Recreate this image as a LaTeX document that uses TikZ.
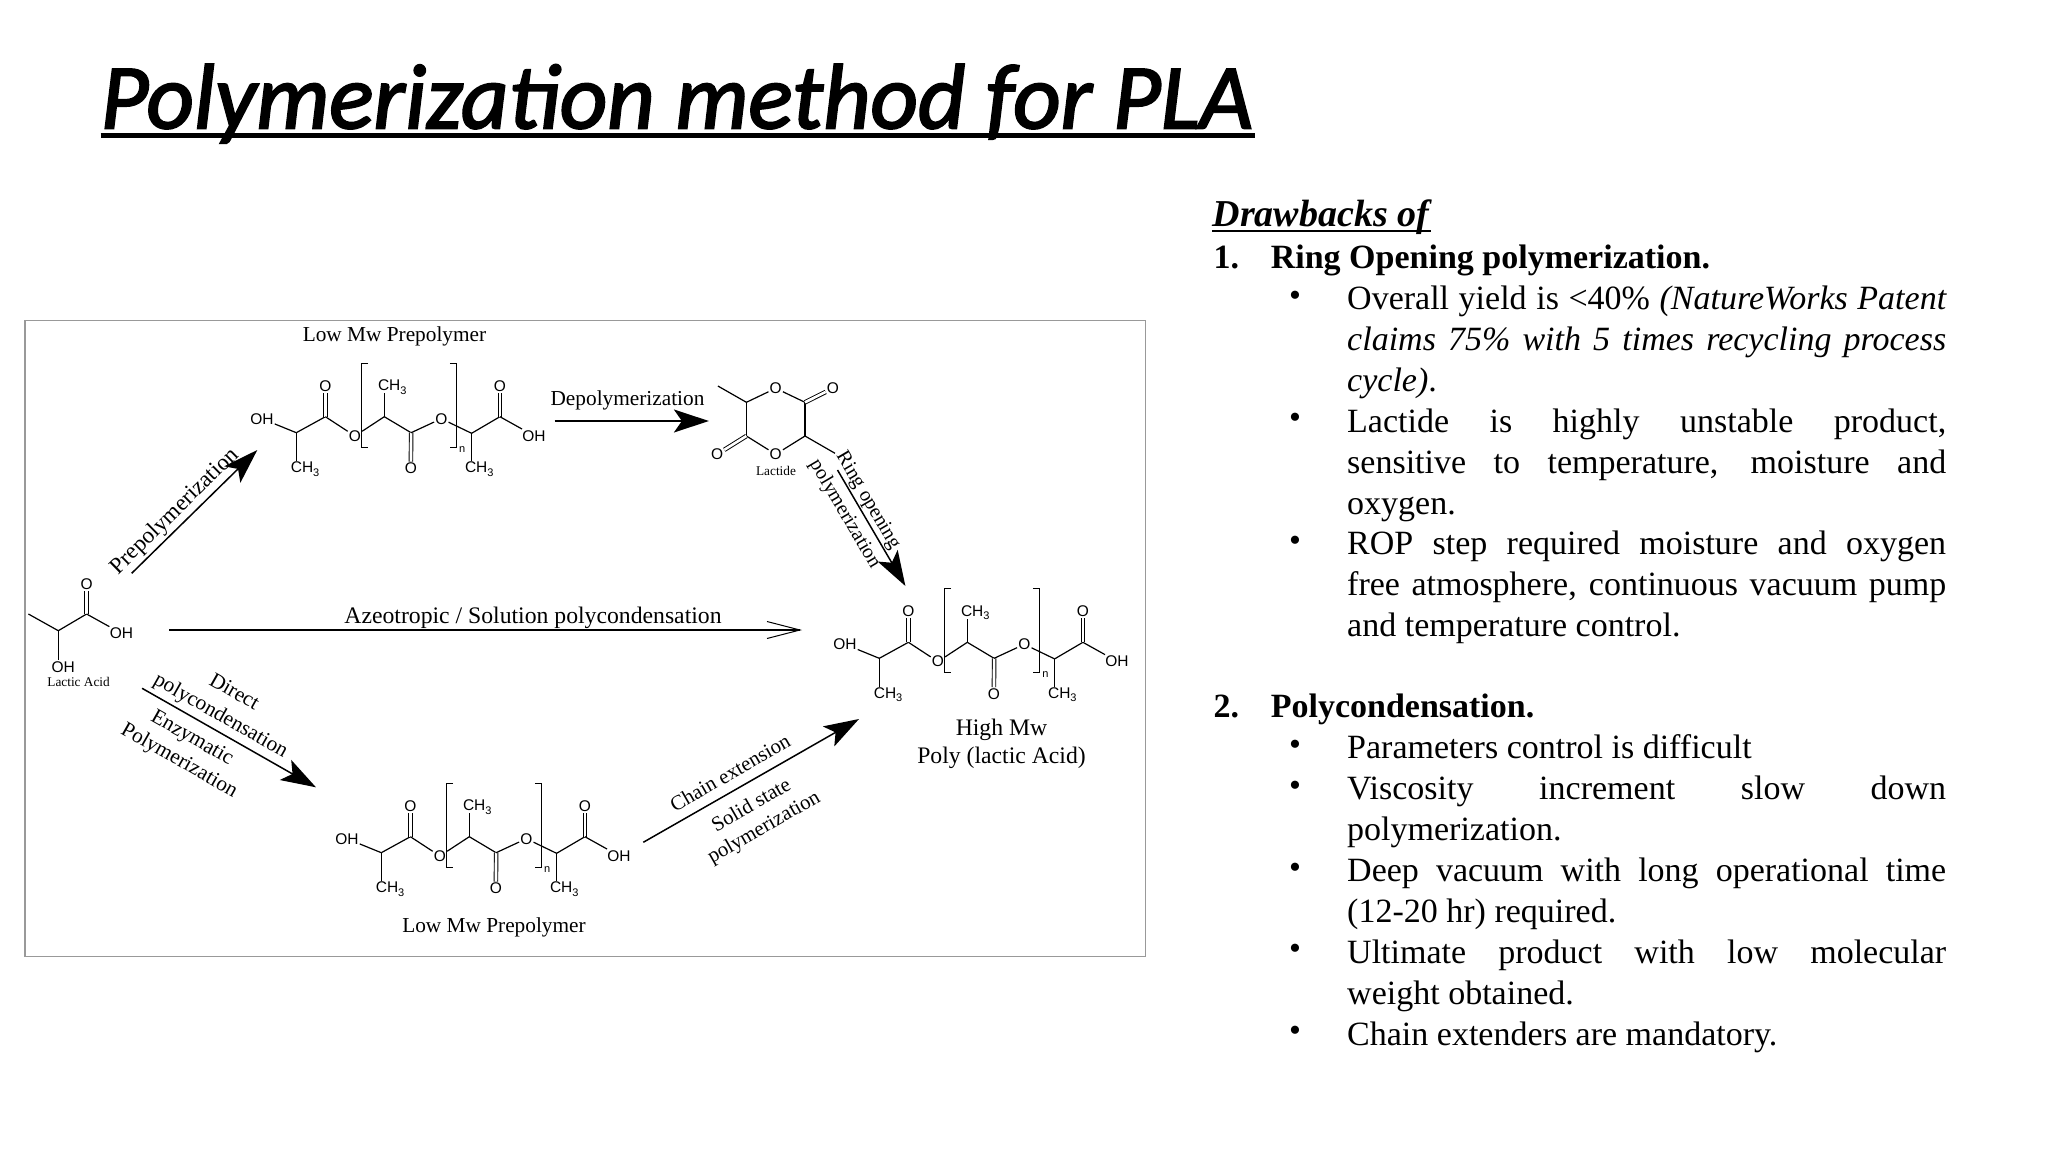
\documentclass[tikz,border=0pt]{standalone}
\usepackage{fontspec}
\setmainfont{Liberation Serif}
\newfontfamily\atomfont{Liberation Sans}
\newfontfamily\titlefont{Carlito}[ItalicFeatures={FakeBold=2.2}]
\usetikzlibrary{arrows.meta}
\newcommand{\chthree}{CH\lower.22em\hbox{\fontsize{11}{11}\selectfont 3}}
\newcommand{\fsz}[2]{\fontsize{#1}{#2}\selectfont}
\tikzset{
  atom/.style={inner sep=1pt,font=\atomfont\fsz{15.5}{16}},
  bond/.style={line width=1.2pt,line cap=butt},
  dbl/.style={line width=0.95pt,double,double distance=2.6pt},
  brk/.style={line width=1.1pt},
  lbl/.style={inner sep=0pt,align=center,font=\fsz{21.3}{27}},
  lblb/.style={inner sep=0pt,align=center,font=\fsz{23.7}{28}},
  lbls/.style={inner sep=0pt,font=\fsz{13.3}{14}},
  solid head/.style={line width=1.5pt,-{Stealth[length=35pt,width=23pt,inset=8pt]}},
  open head/.style={line width=1.5pt,-{Straight Barb[length=33pt,width=17pt,line width=1pt]}},
  frame/.style={draw=black!40,line width=1.5pt},
  para/.style={anchor=base west,inner sep=0pt},
}
\newcommand{\polymer}[3]{%
\begin{scope}[shift={(#2,#3)}]
  \coordinate (#1c1) at (0,0);
  \coordinate (#1c2) at (29.1,-16);
  \coordinate (#1c3) at (88,-16);
  \coordinate (#1c4) at (114.8,0);
  \coordinate (#1c5) at (175.3,0.6);
  \coordinate (#1c6) at (203.6,-16);
  \coordinate (#1m3) at (88,-39.4);
  \node[atom] (#1oh) at (-34.4,-14) {OH};
  \node[atom] (#1mea) at (8.8,36.6) {\chthree};
  \node[atom] (#1oa) at (29.1,-46.7) {O};
  \node[atom] (#1ob) at (58.6,3.3) {O};
  \node[atom] (#1meb) at (96,-45.4) {\chthree};
  \node[atom] (#1oc) at (114.6,35.6) {O};
  \node[atom] (#1od) at (145,-14) {O};
  \node[atom,font=\atomfont\fsz{11}{11}] (#1n) at (166,16.6) {n};
  \node[atom] (#1mec) at (183,36.6) {\chthree};
  \node[atom] (#1oe) at (203.6,-46.7) {O};
  \node[atom] (#1ohb) at (237.7,3) {OH};
  \draw[bond] (#1oh) -- (#1c1);
  \draw[bond] (#1c1) -- (#1c1 |- #1mea.north);
  \draw[bond] (#1c1) -- (#1c2);
  \draw[dbl] (#1c2) -- (#1oa);
  \draw[bond] (#1c2) -- (#1ob);
  \draw[bond] (#1ob) -- (#1c3);
  \draw[bond] (#1c3) -- (#1m3);
  \draw[bond] (#1c3) -- (#1c4);
  \draw[dbl] (#1c4) -- (#1oc);
  \draw[bond] (#1c4) -- (#1od);
  \draw[bond] (#1od) -- (#1c5);
  \draw[bond] (#1c5) -- (#1c5 |- #1mec.north);
  \draw[bond] (#1c5) -- (#1c6);
  \draw[dbl] (#1c6) -- (#1oe);
  \draw[bond] (#1c6) -- (#1ohb);
  \coordinate (#1bl) at (65.4,-69.4);
  \coordinate (#1br) at (65.4,14.6);
  \coordinate (#1cl) at (160,-69.4);
  \coordinate (#1cr) at (160,14.6);
  \draw[brk] ([xshift=6.5pt]#1bl) -- (#1bl) -- (#1br) -- ([xshift=6.5pt]#1br);
  \draw[brk] ([xshift=-6.5pt]#1cl) -- (#1cl) -- (#1cr) -- ([xshift=-6.5pt]#1cr);
\end{scope}}
\newcommand{\bul}[2]{%
  \node[para] at (1289,#1-3.5) {\fsz{34}{40.9}\textbullet};
  \node[para] at (1347,#1) {\parbox[t]{599pt}{\fsz{34}{40.9}\hbadness=10000 \hfuzz=3pt\relax #2}};}
\begin{document}
\begin{tikzpicture}[x=1pt,y=-1pt]
\useasboundingbox (0,0) rectangle (2048,1152);
\fill[white] (0,0) rectangle (2048,1152);

% title
\node[anchor=base west,inner sep=0pt] (title) at (100.5,128.3)
  {\titlefont\itshape\fsz{92.3}{94}Polymerization method for PLA};
\coordinate (tula) at (100.7,135.7);
\coordinate (tulb) at (1254.5,135.7);
\draw[line width=5.5pt] (tula) -- (tulb);

% frame
\node[frame,draw,anchor=north west,minimum width=1120.5pt,minimum height=636pt,inner sep=0pt] (box) at (24,319.5) {};

% lactic acid
\coordinate (la1) at (28.4,614);
\coordinate (la2) at (58.3,630.7);
\coordinate (la3) at (86.6,614);
\node[atom] (lao) at (86.6,584) {O};
\node[atom] (laoh) at (121.4,633.3) {OH};
\node[atom] (laohb) at (63.2,667) {OH};
\node[lbls] (lan) at (78.6,682.3) {Lactic Acid};
\draw[bond] (la1) -- (la2) -- (la3);
\draw[dbl] (la3) -- (lao);
\draw[bond] (la3) -- (laoh);
\draw[bond] (la2) -- (la2 |- laohb.north);

% polymers
\polymer{a}{296.3}{432.7}
\polymer{b}{381.3}{852.7}
\polymer{c}{879.3}{658.3}

% lactide
\coordinate (ld1) at (717.9,386);
\coordinate (ldca) at (746.4,402.3);
\coordinate (ldcb) at (805,402.3);
\coordinate (ldcc) at (805,436);
\coordinate (ldcd) at (746.4,436);
\coordinate (ld2) at (835,453.3);
\node[atom] (ldoa) at (775.7,388.3) {O};
\node[atom] (ldob) at (832.9,388.3) {O};
\node[atom] (ldoc) at (775.7,454.3) {O};
\node[atom] (ldod) at (717.1,454.3) {O};
\node[lbls] (ldn) at (776,471) {Lactide};
\draw[bond] (ld1) -- (ldca);
\draw[bond] (ldca) -- (ldoa);
\draw[bond] (ldoa) -- (ldcb);
\draw[bond] (ldcb) -- (ldcc);
\draw[bond] (ldcc) -- (ldoc);
\draw[bond] (ldoc) -- (ldcd);
\draw[bond] (ldcd) -- (ldca);
\draw[bond] (ldcc) -- (ld2);
\draw[dbl] (ldcb) -- (ldob);
\draw[dbl] (ldcd) -- (ldod);

% structure captions
\node[lbl] (ta) at (394.5,336.6) {Low Mw Prepolymer};
\node[lbl] (tb) at (494,927) {Low Mw Prepolymer};
\node[lblb] (tc) at (1001.5,744.2) {High Mw\\Poly (lactic Acid)};

% arrows
\coordinate (p1) at (131.7,573.3); \coordinate (p2) at (257.3,450);
\draw[solid head] (p1) -- (p2);
\node[lbl,font=\fsz{23}{27},rotate=44.5] (tp) at (175,511.7) {Prepolymerization};

\coordinate (d1) at (554.6,421); \coordinate (d2) at (708.9,421);
\draw[solid head] (d1) -- (d2);
\node[lbl] (td) at (627.5,400.8) {Depolymerization};

\coordinate (r1) at (837.5,470); \coordinate (r2) at (905.4,586);
\draw[solid head] (r1) -- (r2);
\node[lbl,font=\fsz{20.2}{27},rotate=-59.6] (tr) at (856,507.5) {Ring opening\\polymerization};

\coordinate (z1) at (169.3,630); \coordinate (z2) at (802,630);
\draw[open head] (z1) -- (z2);
\node[lbl,font=\fsz{23.7}{27}] (tz) at (533,618.2) {Azeotropic / Solution polycondensation};

\coordinate (e1) at (142.1,688.3); \coordinate (e2) at (316,787.3);
\draw[solid head] (e1) -- (e2);
\node[lbl,font=\fsz{21.3}{27},rotate=-29.6] (te) at (227,704.8) {Direct\\polycondensation};
\node[lbl,font=\fsz{21.3}{26},rotate=-29.6] (tf) at (185.3,750) {Enzymatic\\Polymerization};

\coordinate (g1) at (643.3,842.3); \coordinate (g2) at (859,719);
\draw[solid head] (g1) -- (g2);
\node[lbl,font=\fsz{20.8}{25},rotate=29.8] (tg) at (730,772.8) {Chain extension};
\node[lbl,font=\fsz{20.8}{25},rotate=29.8] (th) at (758,817) {Solid state\\polymerization};

% right text
\node[para] (dr) at (1212.4,226.5) {\fsz{38}{40.9}\bfseries\itshape Drawbacks of};
\coordinate (dra) at (1212.4,230.5); \coordinate (drb) at (1431,230.5);
\draw[line width=2pt] (dra) -- (drb);

\node[para] (n1) at (1213.5,268) {\fsz{34}{40.9}\bfseries 1.};
\node[para] (h1) at (1270.6,268) {\fsz{34}{40.9}\bfseries Ring Opening polymerization.};
\bul{309.5}{Overall yield is <40\% \textit{(NatureWorks Patent\linebreak claims 75\% with 5 times recycling process\linebreak cycle)}.}
\bul{432.2}{Lactide is highly unstable product,\linebreak sensitive to temperature, moisture and\linebreak oxygen.}
\bul{554.9}{ROP step required moisture and oxygen\linebreak free atmosphere, continuous vacuum pump\linebreak and temperature control.}
\node[para] (n2) at (1213.5,717.9) {\fsz{34}{40.9}\bfseries 2.};
\node[para] (h2) at (1270.6,717.9) {\fsz{34}{40.9}\bfseries Polycondensation.};
\bul{758.8}{Parameters control is difficult}
\bul{799.7}{Viscosity increment slow down\linebreak polymerization.}
\bul{881.5}{Deep vacuum with long operational time\linebreak (12-20 hr) required.}
\bul{963.3}{Ultimate product with low molecular\linebreak weight obtained.}
\bul{1045.1}{Chain extenders are mandatory.}
\end{tikzpicture}
\end{document}
